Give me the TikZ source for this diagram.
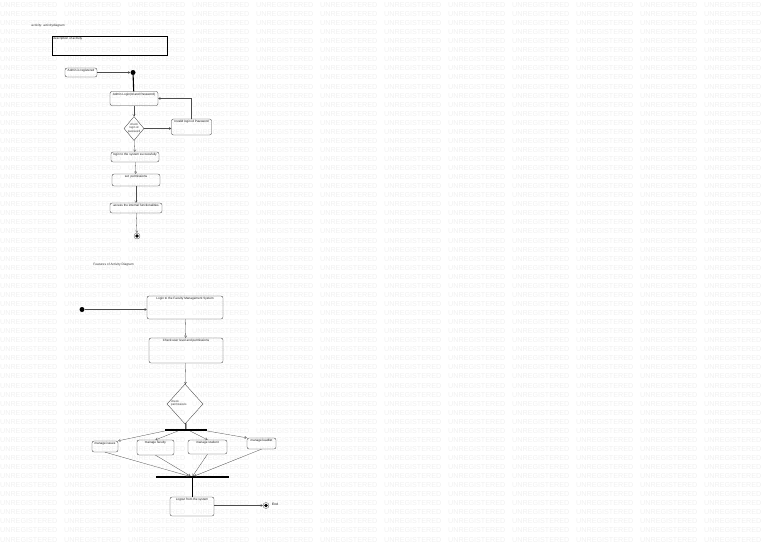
\documentclass[tikz,border=0pt]{standalone}
\usepackage{fontspec}
\setmainfont{Liberation Sans}
\usetikzlibrary{positioning,arrows.meta,shapes.geometric}
\tikzset{
	activity/.style={x=1pt,y=-1pt,>={Straight Barb[length=2pt,width=2.6pt]},line width=0.3pt,draw=black!70,
		every node/.style={font=\fontsize{3.2}{3.8}\selectfont}},
	action/.style={draw=black!75,line width=0.35pt,rounded corners=2pt,inner sep=0pt},
	toptext/.style={anchor=north,inner sep=1.3pt,align=center,text=black!90,font=\fontsize{3.1}{3.7}\selectfont},
	decision/.style={diamond,draw=black!75,line width=0.35pt,inner sep=0pt},
	guard/.style={align=left,inner sep=0pt,text=black!80,font=\fontsize{2.9}{3.5}\selectfont},
	startdot/.style={circle,fill=black,inner sep=0pt,minimum size=5pt},
	enddot/.style={circle,draw,inner sep=0pt,minimum size=6pt,
		path picture={\fill (path picture bounding box.center) circle (1.8pt);}},
	syncbar/.style={fill=black,inner sep=0pt,minimum height=1.6pt},
	watermark/.style={anchor=west,inner sep=0pt,text=black!6,font=\fontsize{7.2}{8}\selectfont}
}

\begin{document}
\begin{tikzpicture}[activity]
		\useasboundingbox (0,0) rectangle (768,543);
		
		% background stamp
		\foreach \r in {0,...,59}
			\foreach \c in {0,...,11}
				\node[watermark] (wm-\r-\c) at (\c*64,5+\r*9.06) {UNREGISTERED};
		
		% admin flow
		\node[anchor=west,text=black!80] (title1) at (28,26) {activity: activitydiagram};
		\node[draw=black,line width=0.7pt,minimum width=115pt,minimum height=19pt,inner sep=0pt,anchor=north west,
			label={[toptext,anchor=north west]north west:description of activity}] (desc) at (52,36) {};
		
		\node[action,minimum width=32pt,minimum height=9pt,label={[toptext]north:Admin is registered}] (reg) at (81,72.5) {};
		\node[startdot] (startA) at (133,72.5) {};
		\node[action,minimum width=48pt,minimum height=14pt,label={[toptext]north:Admin Login(Id and Password)}] (adminlogin) at (134,98.5) {};
		\node[decision,minimum width=20pt,minimum height=24pt] (chk) at (134,128.5) {};
		\node[guard,align=center] (chktext) at (134,128) {check\\login id\\password};
		\node[action,minimum width=40pt,minimum height=16pt,label={[toptext]north:Invalid login id Password}] (invalid) at (191.5,127) {};
		\node[action,minimum width=48pt,minimum height=10pt,label={[toptext]north:login to the system successfully}] (success) at (135,157) {};
		\node[action,minimum width=48pt,minimum height=12pt,label={[toptext]north:set \ permissions}] (setperm) at (136,180) {};
		\node[action,minimum width=52pt,minimum height=10pt,label={[toptext]north:access the internal functionalities}] (access) at (136,208) {};
		\node[enddot] (endA) at (137,236) {};
		
		\draw[->] (reg) -- (startA);
		\draw[line width=1.1pt,draw=black] (startA) -- (adminlogin);
		\draw[->] (adminlogin) -- (chk);
		\draw[->] (chk) -- (invalid.west |- chk);
		\draw[->] (invalid.north) |- (adminlogin.east);
		\draw[->] (chk) -- (success);
		\draw[->] (success) -- (setperm);
		\draw[->] (setperm) -- (access);
		\draw[->] (access) -- (endA);
		
		% faculty management flow
		\node[anchor=west,text=black!80] (title2) at (90,265) {Features of Activity Diagram};
		\node[startdot] (startB) at (82,309.5) {};
		\node[action,minimum width=76pt,minimum height=23pt,label={[toptext]north:Login to the Faculty Management System}] (fms) at (185,307.5) {};
		\node[action,minimum width=74pt,minimum height=25pt,label={[toptext]north:Check user level and permissions}] (userperm) at (186,350.5) {};
		\node[decision,minimum width=36pt,minimum height=40pt] (cp) at (185,404) {};
		\node[guard,anchor=west] (cptext) at (171,403) {check\\permissions};
		\node[syncbar,minimum width=42pt] (fork) at (186,430) {};
		\node[action,minimum width=26pt,minimum height=11pt,label={[toptext]north:manage issues}] (issues) at (105,446.5) {};
		\node[action,minimum width=37pt,minimum height=15pt,label={[toptext]north:manage faculty}] (faculty) at (155.5,447.5) {};
		\node[action,minimum width=39pt,minimum height=14pt,label={[toptext]north:manage student}] (student) at (207.5,447) {};
		\node[action,minimum width=29pt,minimum height=11pt,label={[toptext]north:manage leadlist}] (leadlist) at (261.5,443.5) {};
		\node[syncbar,minimum width=73pt] (join) at (192,477) {};
		\node[action,minimum width=44pt,minimum height=19pt,label={[toptext]north:Logout from the system}] (logout) at (192,506.5) {};
		\node[enddot] (endB) at (266,505.5) {};
		\node[anchor=west,inner sep=0pt] (endlabel) at (272,504) {End};
		
		\draw[->] (startB) -- (fms.west |- startB);
		\draw[->] (fms) -- (userperm);
		\draw[->] (userperm) -- (cp);
		\draw[line width=1pt,draw=black] (cp) -- (fork);
		\draw[->] (fork.south west) -- (issues.north east);
		\draw[->] ([xshift=-8pt]fork.south) -- (faculty.north);
		\draw[->] ([xshift=4pt]fork.south) -- (student.north);
		\draw[->] (fork.south east) -- (leadlist.north west);
		\draw[->] (issues.south) -- (join);
		\draw[->] (faculty.south) -- (join);
		\draw[->] (student.south) -- (join);
		\draw[->] (leadlist.south) -- (join);
		\draw[line width=1pt,draw=black] (join) -- (logout);
		\draw[->] (logout.east |- endB) -- (endB);
\end{tikzpicture}
\end{document}
